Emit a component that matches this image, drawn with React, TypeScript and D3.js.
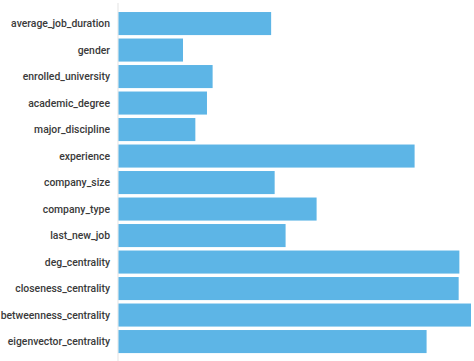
import { useEffect, useRef } from 'react';
import * as d3 from 'd3';

const features = [
  'average_job_duration', 'gender', 'enrolled_university', 'academic_degree',
  'major_discipline', 'experience', 'company_size', 'company_type', 'last_new_job',
  'deg_centrality', 'closeness_centrality', 'betweenness_centrality', 'eigenvector_centrality',
];
const importance = [4.33, 1.83, 2.67, 2.51, 2.18, 8.40, 4.43, 5.62, 4.74, 9.67, 9.65, 10.0, 8.74];

export default function App() {
  const ref = useRef<SVGSVGElement>(null);

  useEffect(() => {
    if (!ref.current) return;
    const W = 474, H = 361;
    const svg = d3.select(ref.current);
    svg.selectAll('*').remove();

    const x0 = 118.5;
    const x = d3.scaleLinear().domain([0, 10]).range([x0, 471]);
    const y = d3.scaleBand<string>().domain(features).range([10.3, 354.8]).paddingInner(0.13).paddingOuter(0.065);

    svg.append('line')
      .attr('x1', x0 - 0.5).attr('x2', x0 - 0.5).attr('y1', 3).attr('y2', H)
      .attr('stroke', '#e3e3e3').attr('stroke-width', 1);

    svg.selectAll('.bar').data(features).enter().append('rect')
      .attr('class', 'bar')
      .attr('x', x0)
      .attr('y', d => y(d)!)
      .attr('width', (_, i) => x(importance[i]) - x0)
      .attr('height', y.bandwidth())
      .attr('fill', '#5db5e6');

    svg.selectAll('.lbl').data(features).enter().append('text')
      .attr('class', 'lbl')
      .attr('x', 110)
      .attr('y', d => y(d)! + y.bandwidth() / 2)
      .attr('dy', '0.35em')
      .attr('text-anchor', 'end')
      .attr('font-family', 'Roboto, sans-serif')
      .attr('font-size', '10.4px')
      .attr('font-weight', 500)
      .attr('fill', '#3a3a3a')
      .text(d => d);

    svg.attr('width', W).attr('height', H);
  }, []);

  return (
    <svg ref={ref} width={474} height={361}
      style={{ position: 'fixed', left: 0, top: 0, background: '#fff' }} />
  );
}
